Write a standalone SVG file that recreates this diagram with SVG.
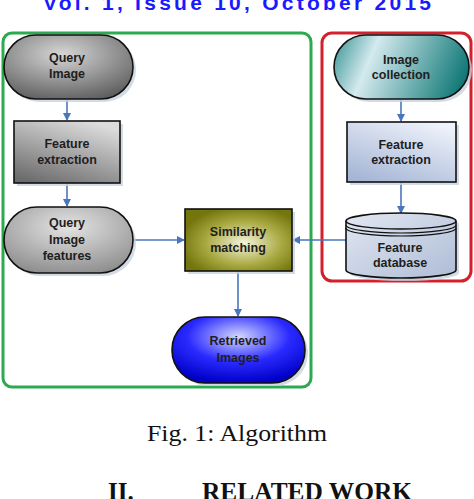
<svg xmlns="http://www.w3.org/2000/svg" width="474" height="499" viewBox="0 0 474 499">
<defs>
<style>
.lbl{font-family:"Liberation Sans",Arial,sans-serif;font-weight:bold;font-size:12.5px;fill:#1e1e1e;text-anchor:middle}
.node{stroke:#111;stroke-width:1.6}
.sh{fill:#c9d2de;opacity:0.8}
.con{stroke:#4a76bd;stroke-width:1.6;fill:none}
</style>
<radialGradient id="gQ" cx="0.45" cy="0.3" r="0.75"><stop offset="0" stop-color="#d6d6d6"/><stop offset="1" stop-color="#5e5e5e"/></radialGradient>
<linearGradient id="gFE" x1="0.7" y1="0" x2="0.2" y2="1"><stop offset="0" stop-color="#dcdcdc"/><stop offset="1" stop-color="#6c6c6c"/></linearGradient>
<radialGradient id="gQF" cx="0.5" cy="0.3" r="0.75"><stop offset="0" stop-color="#e4e4e4"/><stop offset="1" stop-color="#8c8c8c"/></radialGradient>
<radialGradient id="gSM" cx="0.55" cy="0.55" r="0.6"><stop offset="0" stop-color="#f4f4dc"/><stop offset="0.6" stop-color="#a8a840"/><stop offset="1" stop-color="#75750e"/></radialGradient>
<radialGradient id="gRI" cx="0.5" cy="0.3" r="0.7"><stop offset="0" stop-color="#d4d8ff"/><stop offset="0.55" stop-color="#2a2aff"/><stop offset="1" stop-color="#0000c8"/></radialGradient>
<linearGradient id="gIC" x1="0" y1="0.4" x2="1" y2="0.6"><stop offset="0" stop-color="#5aa6a8"/><stop offset="0.25" stop-color="#d4eaee"/><stop offset="1" stop-color="#0c7674"/></linearGradient>
<linearGradient id="gFE2" x1="0.8" y1="0" x2="0.2" y2="1"><stop offset="0" stop-color="#eef2fa"/><stop offset="1" stop-color="#a6b6d6"/></linearGradient>
<linearGradient id="gDB" x1="0" y1="0" x2="1" y2="1"><stop offset="0" stop-color="#e2e8f2"/><stop offset="1" stop-color="#aebcd6"/></linearGradient>
<marker id="ah" markerWidth="8" markerHeight="8" refX="7" refY="4" orient="auto" markerUnits="userSpaceOnUse"><path d="M0,0 L8,4 L0,8 Z" fill="#4a76bd"/></marker>
</defs>
<rect width="474" height="499" fill="#fff"/>

<text x="43" y="10" font-family="Liberation Sans,Arial,sans-serif" font-weight="bold" font-size="21" fill="#1a1aff" textLength="388" lengthAdjust="spacing">Vol. 1, Issue 10, October 2015</text>

<rect x="3" y="33" width="308" height="354" rx="9" fill="none" stroke="#2da94f" stroke-width="3"/>
<rect x="322" y="33" width="149" height="248" rx="10" fill="none" stroke="#d4202c" stroke-width="3"/>

<g id="connectors">
<line class="con" x1="67" y1="100" x2="67" y2="120" marker-end="url(#ah)"/>
<line class="con" x1="67" y1="184" x2="67" y2="206" marker-end="url(#ah)"/>
<line class="con" x1="134" y1="240" x2="184" y2="240" marker-end="url(#ah)"/>
<line class="con" x1="346" y1="240" x2="293" y2="240" marker-end="url(#ah)"/>
<line class="con" x1="238" y1="272" x2="238" y2="316" marker-end="url(#ah)"/>
<line class="con" x1="401" y1="100" x2="401" y2="121" marker-end="url(#ah)"/>
<line class="con" x1="401" y1="183" x2="401" y2="213" marker-end="url(#ah)"/>
</g>

<g id="query-image">
<rect class="sh" x="7" y="38" width="129" height="64" rx="32"/>
<rect class="node" x="4" y="35" width="129" height="64" rx="32" fill="url(#gQ)"/>
<text class="lbl" x="67" y="62">Query</text>
<text class="lbl" x="67" y="78">Image</text>
</g>

<g id="feature-extraction-1">
<rect class="sh" x="17" y="124" width="106" height="62"/>
<rect class="node" x="14" y="121" width="106" height="62" fill="url(#gFE)"/>
<text class="lbl" x="67" y="148">Feature</text>
<text class="lbl" x="67" y="164">extraction</text>
</g>

<g id="query-image-features">
<rect class="sh" x="7" y="210" width="129" height="66" rx="33"/>
<rect class="node" x="4" y="207" width="129" height="66" rx="33" fill="url(#gQF)"/>
<text class="lbl" x="67" y="227">Query</text>
<text class="lbl" x="67" y="244">Image</text>
<text class="lbl" x="67" y="260">features</text>
</g>

<g id="similarity-matching">
<rect class="sh" x="188" y="212" width="107" height="62"/>
<rect class="node" x="185" y="209" width="107" height="62" fill="url(#gSM)"/>
<text class="lbl" x="238" y="236">Similarity</text>
<text class="lbl" x="238" y="252">matching</text>
</g>

<g id="retrieved-images">
<rect class="sh" x="175" y="320" width="133" height="66" rx="33"/>
<rect class="node" x="172" y="317" width="133" height="66" rx="33" fill="url(#gRI)"/>
<text class="lbl" x="238" y="345">Retrieved</text>
<text class="lbl" x="238" y="362">Images</text>
</g>

<g id="image-collection">
<rect class="sh" x="337" y="38" width="135" height="64" rx="32"/>
<rect class="node" x="334" y="35" width="135" height="64" rx="32" fill="url(#gIC)"/>
<text class="lbl" x="401" y="64">Image</text>
<text class="lbl" x="401" y="79">collection</text>
</g>

<g id="feature-extraction-2">
<rect class="sh" x="350" y="125" width="109" height="60"/>
<rect class="node" x="347" y="122" width="109" height="60" fill="url(#gFE2)"/>
<text class="lbl" x="401" y="149">Feature</text>
<text class="lbl" x="401" y="164">extraction</text>
</g>

<g id="feature-database">
<path class="sh" d="M349,224 A55,8 0 0 1 459,224 L459,273 A55,8 0 0 1 349,273 Z"/>
<path class="node" d="M346,221 A55,8 0 0 1 456,221 L456,270 A55,8 0 0 1 346,270 Z" fill="url(#gDB)"/>
<path d="M346,221 A55,8 0 0 0 456,221" fill="none" stroke="#111" stroke-width="1.4"/>
<path d="M346,225 A55,8 0 0 0 456,225" fill="none" stroke="#111" stroke-width="1.2"/>
<path d="M346,228 A55,8 0 0 0 456,228" fill="none" stroke="#111" stroke-width="1.2"/>
<text class="lbl" x="400" y="252">Feature</text>
<text class="lbl" x="400" y="267">database</text>
</g>

<text x="237" y="441" font-family="Liberation Serif,Times New Roman,serif" font-size="24" fill="#111" text-anchor="middle" textLength="180" lengthAdjust="spacingAndGlyphs">Fig. 1: Algorithm</text>
<text x="108" y="500" font-family="Liberation Serif,Times New Roman,serif" font-weight="bold" font-size="25" fill="#111">II.</text>
<text x="202" y="500" font-family="Liberation Serif,Times New Roman,serif" font-weight="bold" font-size="25" fill="#111" textLength="210" lengthAdjust="spacingAndGlyphs">RELATED WORK</text>
</svg>
